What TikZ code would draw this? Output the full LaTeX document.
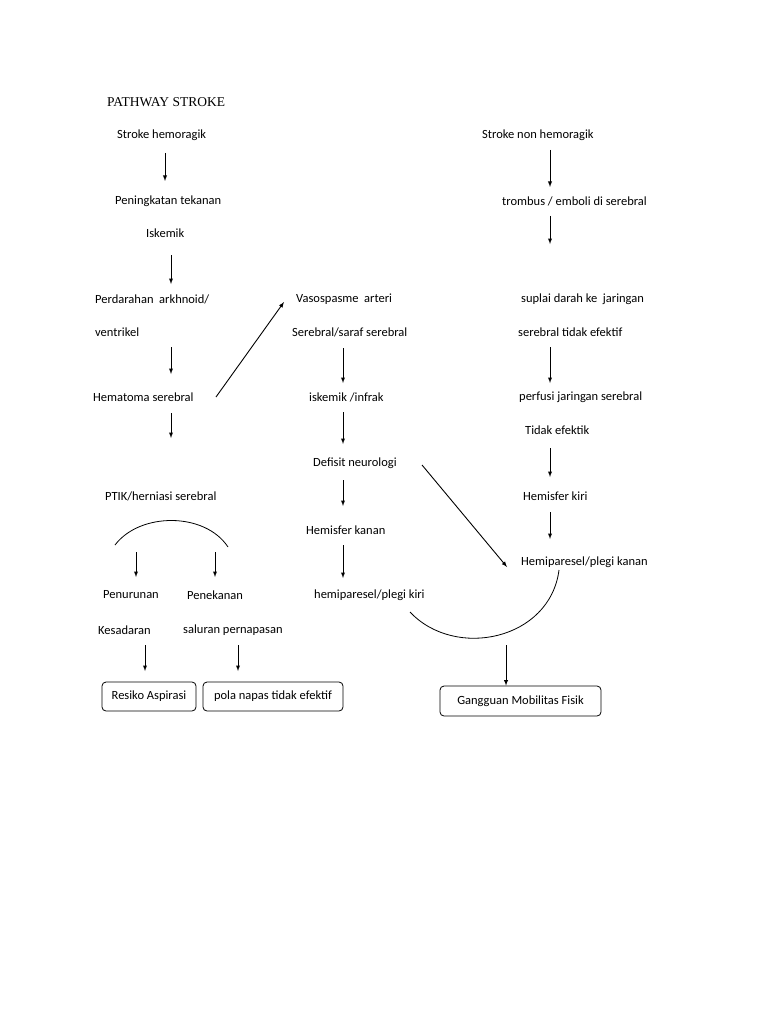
\documentclass[tikz,border=0pt]{standalone}
\usepackage{fontspec}
\setmainfont{Carlito}
\newfontfamily\titlefont{Liberation Serif}
\begin{document}
\begin{tikzpicture}[x=1pt,y=-1pt,
  t/.style={anchor=west,inner sep=0pt,font=\fontsize{12.5}{14}\selectfont},
  arr/.style={-latex,line width=0.9pt},
  bx/.style={draw,rounded corners=4pt,line width=0.8pt,minimum height=29pt,inner sep=2pt,font=\fontsize{12.5}{14}\selectfont}]
\useasboundingbox (0,0) rectangle (768,1024);
\node[anchor=west,inner sep=0pt,font=\titlefont\fontsize{13.5}{15}\selectfont] (title) at (107,102) {PATHWAY STROKE};
% left column
\node[t] (a1) at (117,135) {Stroke hemoragik};
\node[t] (a2) at (115,201) {Peningkatan tekanan};
\node[t] (a2b) at (146,233) {Iskemik};
\node[t] (a3) at (95,299) {Perdarahan \ arkhnoid/};
\node[t] (a3b) at (95,332) {ventrikel};
\node[t] (a4) at (93,397) {Hematoma serebral};
\node[t] (a5) at (105,496) {PTIK/herniasi serebral};
\node[t] (p1) at (103,595) {Penurunan};
\node[t] (p1b) at (98,630) {Kesadaran};
\node[t] (p2) at (187,595) {Penekanan};
\node[t] (p2b) at (183,630) {saluran pernapasan};
\node[bx,minimum width=94pt] (b1) at (149,696.5) {Resiko Aspirasi};
\node[bx,minimum width=140pt] (b2) at (273,696.5) {pola napas tidak efektif};
\coordinate (c1) at (165,153); \coordinate (c1e) at (165,181);
\draw[arr] (c1) -- (c1e);
\coordinate (c2) at (171,255); \coordinate (c2e) at (171,284);
\draw[arr] (c2) -- (c2e);
\coordinate (c3) at (171,347); \coordinate (c3e) at (171,374);
\draw[arr] (c3) -- (c3e);
\coordinate (c4) at (171,413); \coordinate (c4e) at (171,438);
\draw[arr] (c4) -- (c4e);
\coordinate (arcL) at (115,545); \coordinate (arcR) at (228,547);
\draw[line width=0.8pt] (arcL) .. controls (140,512) and (205,512) .. (arcR);
\coordinate (d1) at (136,552); \coordinate (d1e) at (136,577);
\draw[arr] (d1) -- (d1e);
\coordinate (d2) at (215,552); \coordinate (d2e) at (215,577);
\draw[arr] (d2) -- (d2e);
\coordinate (e1) at (145,645); \coordinate (e1e) at (145,671);
\draw[arr] (e1) -- (e1e);
\coordinate (e2) at (238,645); \coordinate (e2e) at (238,671);
\draw[arr] (e2) -- (e2e);
% middle column
\node[t] (m1) at (296,299) {Vasospasme \ arteri};
\node[t] (m1b) at (292,332) {Serebral/saraf serebral};
\node[t] (m2) at (309,397) {iskemik /infrak};
\node[t] (m3) at (313,463) {Defisit neurologi};
\node[t] (m4) at (306,530) {Hemisfer kanan};
\node[t] (m5) at (314,595) {hemiparesel/plegi kiri};
\coordinate (f0) at (216,397); \coordinate (f0e) at (284,302);
\draw[arr] (f0) -- (f0e);
\coordinate (f1) at (343,348); \coordinate (f1e) at (343,383);
\draw[arr] (f1) -- (f1e);
\coordinate (f2) at (343,412); \coordinate (f2e) at (343,444);
\draw[arr] (f2) -- (f2e);
\coordinate (f3) at (343,480); \coordinate (f3e) at (343,506);
\draw[arr] (f3) -- (f3e);
\coordinate (f4) at (343,545); \coordinate (f4e) at (343,578);
\draw[arr] (f4) -- (f4e);
\coordinate (g0) at (422,465); \coordinate (g0e) at (507,567);
\draw[arr] (g0) -- (g0e);
% right column
\node[t] (r1) at (482,135) {Stroke non hemoragik};
\node[t] (r2) at (502,201) {trombus / emboli di serebral};
\node[t] (r3) at (521,299) {suplai darah ke \ jaringan};
\node[t] (r3b) at (518,332) {serebral tidak efektif};
\node[t] (r4) at (519,397) {perfusi jaringan serebral};
\node[t] (r4b) at (525,430) {Tidak efektik};
\node[t] (r5) at (523,496) {Hemisfer kiri};
\node[t] (r6) at (521,562) {Hemiparesel/plegi kanan};
\node[bx,minimum width=161pt,minimum height=30pt] (b3) at (520.5,701) {Gangguan Mobilitas Fisik};
\coordinate (h1) at (550,150); \coordinate (h1e) at (550,187);
\draw[arr] (h1) -- (h1e);
\coordinate (h2) at (550,216); \coordinate (h2e) at (550,244);
\draw[arr] (h2) -- (h2e);
\coordinate (h3) at (550,347); \coordinate (h3e) at (550,383);
\draw[arr] (h3) -- (h3e);
\coordinate (h4) at (550,448); \coordinate (h4e) at (550,477);
\draw[arr] (h4) -- (h4e);
\coordinate (h5) at (550,512); \coordinate (h5e) at (550,539);
\draw[arr] (h5) -- (h5e);
\coordinate (arc2L) at (410,612); \coordinate (arc2R) at (559,570);
\draw[line width=0.8pt] (arc2L) .. controls (455,660) and (550,640) .. (arc2R);
\coordinate (k1) at (506,645);
\draw[arr] (k1) -- (b3.north -| k1);
\end{tikzpicture}
\end{document}
